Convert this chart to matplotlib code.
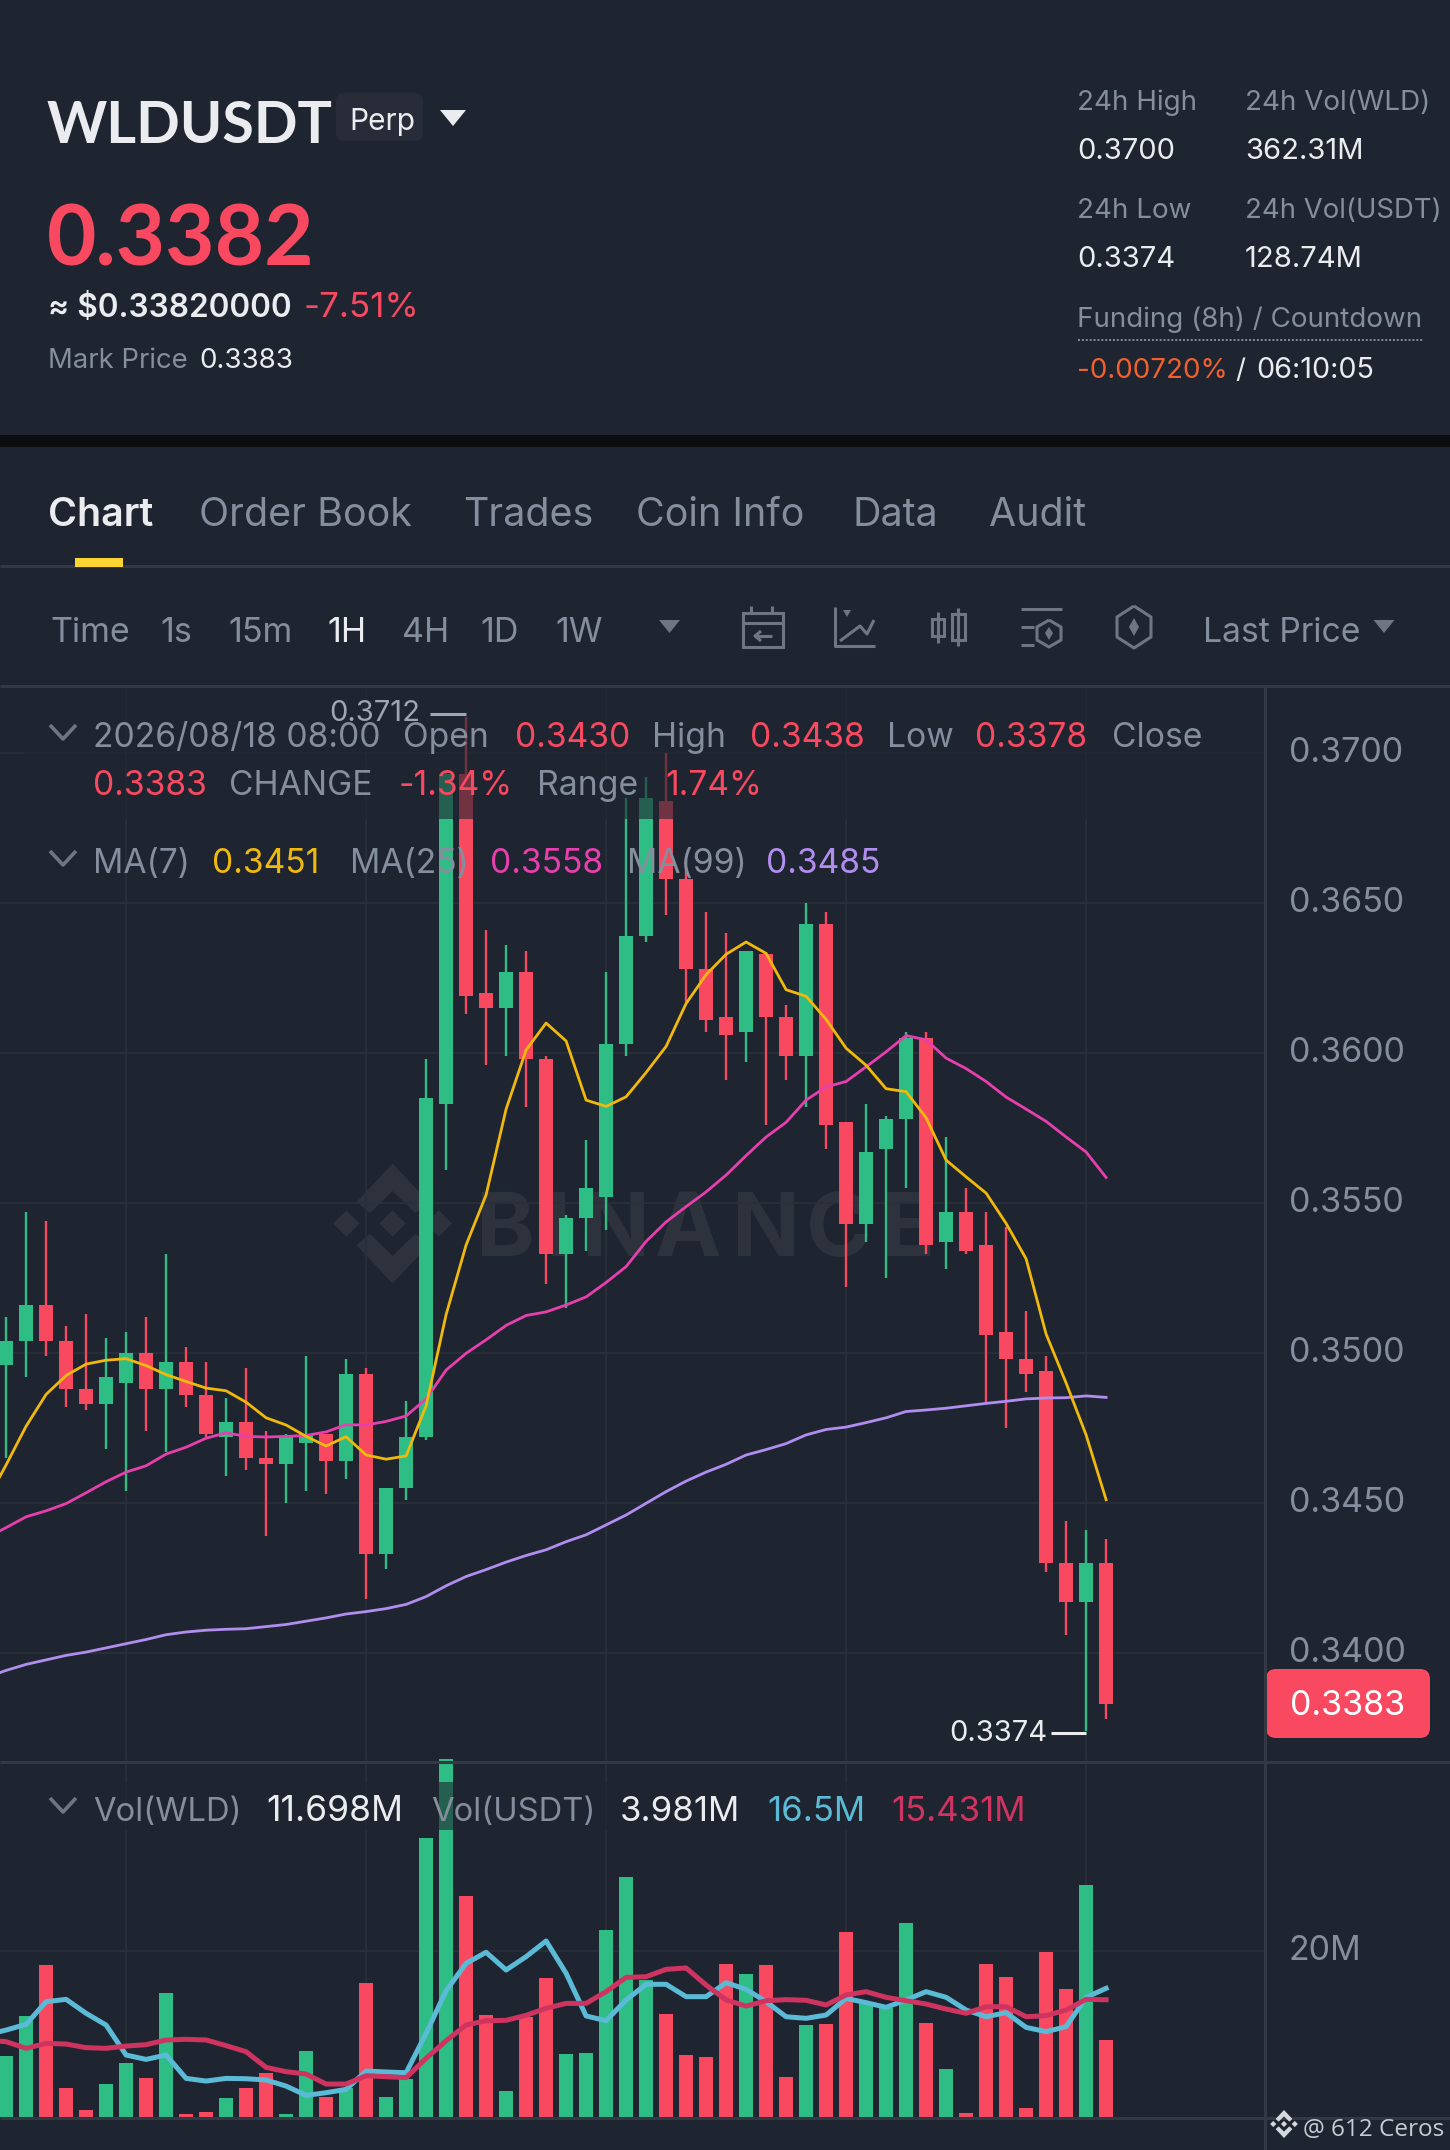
import matplotlib
matplotlib.use('Agg')
import matplotlib.pyplot as plt
from matplotlib.patches import Rectangle, FancyBboxPatch, Polygon
from matplotlib.transforms import ScaledTranslation

plt.rcParams['font.family'] = ['Inter', 'DejaVu Sans']

# candles
opens = [.3496, .3504, .3516, .3504, .3488, .3483, .3490, .3500, .3488, .3497, .3486, .3472, .3477, .3465,
         .3463, .3470, .3473, .3464, .3493, .3433, .3455, .3472, .3583, .3693, .3620, .3615, .3627, .3598,
         .3533, .3545, .3552, .3603, .3639, .3684, .3658, .3628, .3612, .3607, .3633, .3612, .3599, .3643,
         .3577, .3543, .3568, .3578, .3605, .3537, .3547, .3536, .3507, .3498, .3494, .3430, .3417, .3430]
highs = [.3512, .3547, .3544, .3509, .3513, .3505, .3507, .3512, .3533, .3502, .3497, .3485, .3495, .3474,
         .3473, .3499, .3473, .3498, .3495, .3455, .3484, .3598, .3694, .3712, .3641, .3636, .3634, .3599,
         .3546, .3571, .3627, .3685, .3692, .3700, .3664, .3647, .3640, .3634, .3633, .3616, .3650, .3647,
         .3577, .3583, .3579, .3607, .3607, .3572, .3555, .3547, .3542, .3514, .3499, .3444, .3441, .3438]
lows = [.3465, .3492, .3499, .3482, .3481, .3468, .3454, .3474, .3467, .3482, .3472, .3459, .3461, .3439,
        .3450, .3454, .3453, .3458, .3418, .3428, .3451, .3471, .3561, .3613, .3596, .3599, .3582, .3523,
        .3515, .3534, .3541, .3599, .3637, .3646, .3617, .3607, .3591, .3597, .3576, .3591, .3582, .3568,
        .3522, .3537, .3525, .3555, .3533, .3528, .3533, .3483, .3475, .3487, .3427, .3406, .3374, .3378]
closes = [.3504, .3516, .3504, .3488, .3483, .3492, .3500, .3488, .3497, .3486, .3473, .3477, .3465, .3463,
          .3472, .3473, .3464, .3493, .3433, .3455, .3472, .3585, .3693, .3619, .3615, .3627, .3598, .3533,
          .3545, .3555, .3603, .3639, .3685, .3658, .3628, .3611, .3606, .3634, .3612, .3599, .3643, .3576,
          .3543, .3567, .3578, .3605, .3536, .3547, .3534, .3506, .3498, .3493, .3430, .3417, .3430, .3383]
volumes = [10.13, 13.94, 18.69, 7.13, 5.06, 7.5, 9.47, 8.09, 16.03, 4.75, 4.91, 6.25, 7.19, 8.53,
           4.75, 10.59, 6.34, 7.13, 16.97, 6.31, 7.97, 30.56, 37.97, 25.13, 13.97, 6.91, 13.84, 17.47,
           10.34, 10.41, 21.94, 26.94, 17.28, 14.09, 10.25, 10.06, 18.78, 17.81, 18.69, 8.19, 13.03, 13.16,
           21.78, 15.25, 14.63, 22.59, 13.28, 8.91, 4.78, 18.81, 17.59, 5.31, 19.94, 16.47, 26.19, 11.69]

# moving averages, first point sits one candle off the left edge
ma7 = [.34503, .34627, .34756, .34862, .34925, .34963, .34976, .34981, .34958, .34928, .34905, .34883, .34874, .34836,
       .34784, .3476, .34722, .3469, .34721, .3466, .34646, .34657, .34824, .35128, .3536, .35527, .35813, .3601,
       .361, .3604, .35843, .35822, .35854, .35935, .36022, .36165, .36261, .36329, .3637, .36332, .36211, .36189,
       .36112, .36016, .35959, .35881, .35871, .35784, .35643, .35587, .35533, .35432, .35314, .35063, .349, .34727, .34511]
ma25 = [.34383, .34418, .34454, .34474, .34498, .34534, .34571, .34603, .34624, .34663, .34686, .34716, .34734, .34722,
        .3472, .34722, .34725, .34737, .34761, .3476, .34772, .3479, .34847, .34943, .34999, .35044, .35092, .35125,
        .35137, .3516, .35187, .35235, .35288, .35372, .35437, .35488, .35537, .35593, .35658, .3572, .35769, .35843,
        .35887, .35905, .35954, .36004, .36058, .36044, .35983, .35948, .35905, .35853, .35813, .35772, .3572, .3567, .35585]
ma99 = [.33918, .33942, .33962, .33977, .33992, .34003, .34017, .34031, .34045, .34061, .3407, .34076, .34079, .34081,
        .34088, .34095, .34106, .34117, .3413, .34138, .34148, .34162, .34188, .34224, .34255, .34278, .34303, .34325,
        .34344, .34371, .34394, .34427, .3446, .34499, .34538, .34573, .34603, .34629, .3466, .34678, .34698, .34727,
        .34745, .34753, .34768, .34784, .34805, .3481, .34816, .34824, .34832, .34839, .34847, .3485, .34851, .34857, .34852]
vol_ma_blue = [12.13, 12.59, 13.13, 15.25, 15.47, 14.16, 13.06, 10.25, 9.84, 10.25, 8.06, 7.81, 8.06, 8.03,
               7.91, 7.34, 6.47, 6.72, 7.03, 8.75, 8.66, 8.59, 12.28, 16.28, 18.84, 19.88, 18.22, 19.47,
               20.94, 17.91, 13.91, 13.47, 15.41, 16.88, 16.88, 15.72, 15.72, 17.03, 16.41, 15.25, 13.84, 13.69,
               14.0, 15.56, 15.16, 14.72, 15.41, 16.19, 15.66, 14.47, 13.84, 14.22, 12.84, 12.44, 12.91, 15.66, 16.5]
vol_ma_red = [11.66, 11.5, 10.88, 11.34, 11.28, 10.94, 10.88, 11.09, 11.22, 11.66, 11.72, 11.66, 11.13, 10.56,
              9.09, 8.69, 8.47, 7.53, 7.53, 8.31, 8.22, 8.13, 9.94, 11.59, 13.06, 13.47, 13.5, 13.97,
              14.63, 15.09, 15.09, 16.19, 17.53, 17.59, 18.28, 18.41, 16.81, 15.41, 14.84, 15.34, 15.44, 15.38,
              14.94, 15.88, 16.19, 15.66, 15.34, 15.03, 14.56, 14.16, 14.78, 14.78, 13.84, 13.94, 14.47, 15.47, 15.43]

price_ticks = [.34, .345, .35, .355, .36, .365, .37]
vol_ticks = [20]
time_ticks = [6, 18, 30, 42, 54]

tabs = ['Chart', 'Order Book', 'Trades', 'Coin Info', 'Data', 'Audit']
tab_x = [48, 199, 463, 636, 853, 989]
intervals = ['Time', '1s', '15m', '1H', '4H', '1D', '1W']
interval_x = [50, 160, 228, 327, 402, 480, 555]

BG = '#1E2530'
GRID = '#2A303A'
LINE = '#323844'
RED = '#F84960'
GREEN = '#2EBD85'
GREY = '#848E9C'
WHITE = '#EAECEF'
ICON = '#6F7680'
YELLOW = '#F0B90B'
PINK = '#E83FAF'
VIOLET = '#B28DF0'
BLUE = '#5BBAD6'
CRIMSON = '#CF3460'
WM = '#2D323D'

W, H = 1450, 2150
PANE_R = 1265
fig = plt.figure(figsize=(W / 100, H / 100), dpi=100, facecolor=BG)
label_up = ScaledTranslation(0, 4 / 100, fig.dpi_scale_trans)


def pane(top, bottom, z):
    a = fig.add_axes([0, 1 - bottom / H, PANE_R / W, (bottom - top) / H], zorder=z)
    a.patch.set_alpha(0)
    for s in a.spines.values():
        s.set_visible(False)
    a.set_axisbelow(True)
    a.set_xlim((0 - 6.1) / 20, (PANE_R - 6.1) / 20)
    a.set_xticks(time_ticks)
    a.tick_params(axis='x', length=0, labelbottom=False)
    a.yaxis.tick_right()
    a.tick_params(axis='y', length=0, pad=17, labelsize=24.5, labelcolor=GREY)
    a.grid(True, color=GRID, linewidth=1.2)
    return a


# background layer: watermark
back = fig.add_axes([0, 0, 1, 1], zorder=0)
back.set_xlim(0, W)
back.set_ylim(H, 0)
back.axis('off')


def logo(a, cx, cy, r, color, z=1):
    for dx in (0, -.77, .77):
        a.add_patch(Polygon([(cx + (dx + .22) * r, cy), (cx + dx * r, cy + .22 * r),
                             (cx + (dx - .22) * r, cy), (cx + dx * r, cy - .22 * r)],
                            color=color, lw=0, zorder=z))
    for sg in (1, -1):
        pts = [(0, 1), (.6, .36), (.38, .17), (0, .54), (-.38, .17), (-.6, .36)]
        a.add_patch(Polygon([(cx + p[0] * r, cy - sg * p[1] * r) for p in pts], color=color, lw=0, zorder=z))


logo(back, 392.6, 1223.5, 60, WM)
for letter, lx in zip('BINANCE', [475, 545, 581, 655, 731, 806, 880]):
    back.text(lx, 1256, letter, color=WM, fontsize=64, fontweight='bold', va='baseline')

# price pane
ax = pane(686, 1761, 1)
ax.set_ylim(.37 - (1761 - 753) / 30000, .37 - (686 - 753) / 30000)
ax.set_yticks(price_ticks)
ax.set_yticklabels([f'{p:.4f}' for p in price_ticks])

x = list(range(len(opens)))
colors = [GREEN if c >= o else RED for o, c in zip(opens, closes)]
ax.vlines(x, lows, highs, colors=colors, linewidth=1.7, zorder=2)
ax.bar(x, [abs(c - o) for o, c in zip(opens, closes)], bottom=[min(o, c) for o, c in zip(opens, closes)],
       width=0.71, color=colors, zorder=3)
xma = list(range(-1, len(opens)))
ax.plot(xma, ma99, color=VIOLET, linewidth=2, zorder=4)
ax.plot(xma, ma25, color=PINK, linewidth=2, zorder=4)
ax.plot(xma, ma7, color=YELLOW, linewidth=2, zorder=4)

# volume pane, the scale does not start at zero
axv = pane(1758, 2116.7, 1)
axv.set_ylim(4.47, 38.09)
axv.set_yticks(vol_ticks)
axv.set_yticklabels([f'{v}M' for v in vol_ticks])
axv.bar(x, volumes, width=0.71, color=colors, zorder=2)
axv.plot(xma, vol_ma_blue, color=BLUE, linewidth=3.6, zorder=3)
axv.plot(xma, vol_ma_red, color=CRIMSON, linewidth=3.6, zorder=4)

for a in (ax, axv):
    for lab in a.get_yticklabels():
        lab.set_transform(lab.get_transform() + label_up)

# everything else goes on top, in pixels
top = fig.add_axes([0, 0, 1, 1], zorder=5)
top.set_xlim(0, W)
top.set_ylim(H, 0)
top.axis('off')
top.patch.set_alpha(0)


def txt(px, py, s, color=GREY, size=24.2, **kw):
    top.text(px, py, s, color=color, fontsize=size, va='baseline', zorder=10, **kw)


def seg(xs, ys, color=ICON, lw=2.2):
    top.plot(xs, ys, color=color, linewidth=lw, solid_capstyle='butt', solid_joinstyle='round', zorder=9)


def tri(cx, y0, y1, half, color=GREY):
    top.add_patch(Polygon([(cx - half, y0), (cx + half, y0), (cx, y1)], color=color, lw=0, zorder=9))


# separators
top.add_patch(Rectangle((0, 435), W, 12, color='#0B0E11', lw=0))
for yy in [565.5, 685.5, 1761.5, 2118]:
    seg([0, W], [yy, yy], LINE, 2.2)
seg([PANE_R, PANE_R], [686, H], LINE, 2.2)

# legend backdrops dim the candles under them
top.add_patch(Rectangle((24, 688), PANE_R - 24, 131, color=BG, alpha=.62, lw=0, zorder=6))
top.add_patch(Rectangle((24, 1782), 1036, 48, color=BG, alpha=.62, lw=0, zorder=6))

# header
txt(47, 143, 'WLDUSDT', WHITE, 41.3, fontweight='bold', family=['Lato'])
top.add_patch(FancyBboxPatch((336, 93), 87, 48, boxstyle='round,pad=0,rounding_size=8', color='#272C38', lw=0))
txt(349, 130, 'Perp', WHITE, 21.5)
tri(453, 110, 126, 13, WHITE)
txt(47, 265, '0.3382', RED, 61.5, fontweight='bold', family=['Lato'])
txt(48, 317, '≈ $0.33820000', WHITE, 22.7, fontweight='semibold')
txt(304, 317, '-7.51%', RED, 25.2)
txt(48, 368, 'Mark Price', GREY, 19.8)
txt(199, 368, '0.3383', WHITE, 20)

txt(1077, 110, '24h High', GREY, 20)
txt(1245, 110, '24h Vol(WLD)', GREY, 20)
txt(1077, 159, '0.3700', WHITE, 21)
txt(1245, 159, '362.31M', WHITE, 21)
txt(1077, 218, '24h Low', GREY, 20)
txt(1245, 218, '24h Vol(USDT)', GREY, 19.8)
txt(1077, 267, '0.3374', WHITE, 21)
txt(1245, 267, '128.74M', WHITE, 21)
txt(1077, 327, 'Funding (8h) / Countdown', GREY, 20)
top.plot([1078, 1424], [340, 340], color=GREY, linewidth=1.4, linestyle=(0, (1, 1)), zorder=9)
txt(1077, 378, '-0.00720%', '#F0612F', 20)
txt(1235, 378, '/', WHITE, 20)
txt(1256, 378, '06:10:05', WHITE, 20.7)

# tabs
for i, t in enumerate(tabs):
    txt(tab_x[i], 526, t, WHITE if t == 'Chart' else GREY, 28.4, fontweight='semibold' if t == 'Chart' else 'normal')
top.add_patch(Rectangle((75, 558), 48, 9, color='#FCD535', lw=0, zorder=9))

# interval bar
for i, t in enumerate(intervals):
    txt(interval_x[i], 642, t, WHITE if t == '1H' else GREY, 24.5)
tri(669.5, 620, 633, 10.5, ICON)
txt(1203, 642, 'Last Price', GREY, 24.2)
tri(1384, 620, 633, 10.5, ICON)

# calendar icon
top.add_patch(Rectangle((743, 613), 40, 34, fill=False, ec=ICON, lw=2.2, zorder=9))
seg([743, 783], [623, 623])
seg([751, 751], [606, 613])
seg([772, 772], [606, 613])
seg([756, 772], [636, 636])
seg([761, 755, 761], [631, 636, 641])
# line chart icon
seg([835, 835, 875], [607, 646, 646])
seg([840, 860, 867, 874], [641, 626, 634, 620])
tri(847, 610, 617, 4, ICON)
# candle icon
seg([938, 938], [612, 643])
top.add_patch(Rectangle((932, 619), 12, 17, fill=False, ec=ICON, lw=2.2, zorder=9))
seg([958, 958], [608, 646])
top.add_patch(Rectangle((952, 614), 13, 26, fill=False, ec=ICON, lw=2.2, zorder=9))
# settings icon
seg([1021, 1062], [609, 609])
seg([1021, 1034], [627, 627])
seg([1021, 1034], [645, 645])
seg([1049, 1061, 1061, 1049, 1037, 1037, 1049], [620, 627, 640, 647, 640, 627, 620])
top.add_patch(Polygon([(1049, 627), (1053, 633), (1049, 640), (1045, 633)], color=ICON, lw=0, zorder=9))
# hexagon icon
seg([1134, 1151, 1151, 1134, 1117, 1117, 1134], [606, 617, 637, 648, 637, 617, 606])
top.add_patch(Polygon([(1134, 618), (1139, 627), (1134, 636), (1129, 627)], color=ICON, lw=0, zorder=9))

# legends
for cy in [725, 851, 1798]:
    seg([50, 63, 76], [cy, cy + 14, cy], ICON, 2.6)
txt(93, 747, '2026/08/18 08:00')
txt(403, 747, 'Open')
txt(515, 747, '0.3430', RED)
txt(652, 747, 'High')
txt(750, 747, '0.3438', RED)
txt(887, 747, 'Low')
txt(975, 747, '0.3378', RED)
txt(1112, 747, 'Close')
txt(93, 795, '0.3383', RED)
txt(229, 795, 'CHANGE')
txt(399, 795, '-1.34%', RED)
txt(537, 795, 'Range')
txt(665, 795, '1.74%', RED)
txt(93, 873, 'MA(7)')
txt(212.5, 873, '0.3451', YELLOW)
txt(350, 873, 'MA(25)')
txt(489.6, 873, '0.3558', PINK)
txt(627, 873, 'MA(99)')
txt(766, 873, '0.3485', VIOLET)
txt(93, 1821, 'Vol(WLD)', size=23.6)
txt(266, 1821, '11.698M', WHITE, 25.5)
txt(431, 1821, 'Vol(USDT)', size=23.6)
txt(620, 1821, '3.981M', WHITE, 25)
txt(767, 1821, '16.5M', BLUE, 25)
txt(891, 1821, '15.431M', CRIMSON, 25)

# high and low markers
txt(329, 721, '0.3712', '#A0A6B0', 21)
seg([430, 466], [714, 714], '#A0A6B0', 2.2)
txt(949, 1741, '0.3374', WHITE, 21)
seg([1051, 1086], [1733, 1733], WHITE, 2.2)

# last price tag
top.add_patch(FancyBboxPatch((1266, 1669), 164, 69, boxstyle='round,pad=0,rounding_size=10', color=RED, lw=0, zorder=8))
top.text(1348, 1715, '0.3383', color='white', fontsize=24.5, ha='center', va='baseline', zorder=10)

# credit
logo(top, 1284, 2124, 14, '#D5D8DC', 9)
top.text(1303, 2136, '@ 612 Ceros', color='#C8CCD2', fontsize=17.5, family='Open Sans', va='baseline', zorder=10)

plt.savefig('out.png', dpi=100, facecolor=BG)
